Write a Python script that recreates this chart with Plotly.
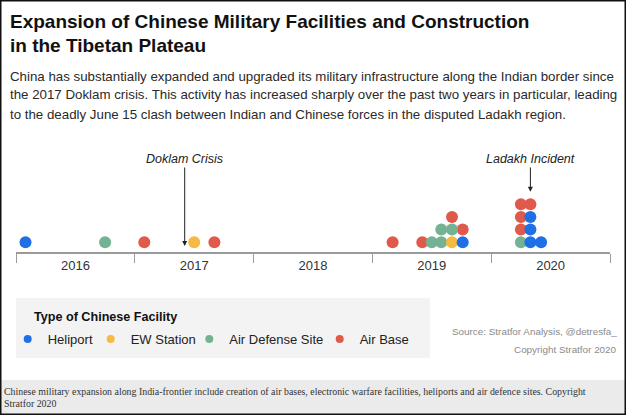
import plotly.graph_objects as go

W, H = 626, 415

# ---------------- data ----------------
year_bounds = [2016, 2017, 2018, 2019, 2020, 2021]
year_centers = [2016.5, 2017.5, 2018.5, 2019.5, 2020.5]
year_labels = ["2016", "2017", "2018", "2019", "2020"]

facility_types = ["Heliport", "EW Station", "Air Defense Site", "Air Base"]
facility_colors = ["#1f6fe6", "#f6b941", "#73b394", "#e05a4b"]

heliport_dates = [2016.08, 2019.76, 2020.33, 2020.33, 2020.33, 2020.42]
heliport_stack = [0, 0, 0, 1, 2, 0]
ew_dates = [2017.50, 2019.67]
ew_stack = [0, 0]
airdef_dates = [2016.75, 2019.50, 2019.58, 2019.58, 2019.67, 2020.25]
airdef_stack = [0, 0, 0, 1, 1, 0]
airbase_dates = [2017.08, 2017.67, 2019.17, 2019.42, 2019.67, 2019.76,
                 2020.25, 2020.25, 2020.25, 2020.33]
airbase_stack = [0, 0, 0, 0, 2, 1, 1, 2, 3, 3]

event_names = ["Doklam Crisis", "Ladakh Incident"]
event_dates = [2017.42, 2020.33]

title_lines = ["Expansion of Chinese Military Facilities and Construction",
               "in the Tibetan Plateau"]
subtitle_lines = [
    "China has substantially expanded and upgraded its military infrastructure along the Indian border since",
    "the 2017 Doklam crisis. This activity has increased sharply over the past two years in particular, leading",
    "to the deadly June 15 clash between Indian and Chinese forces in the disputed Ladakh region.",
]
legend_title = "Type of Chinese Facility"
source_lines = ["Source: Stratfor Analysis, @detresfa_", "Copyright Stratfor 2020"]
caption_lines = [
    "Chinese military expansion along India-frontier include creation of air bases, electronic warfare facilities, heliports and air defence sites. Copyright",
    "Stratfor 2020",
]

# ---------------- layout helpers ----------------
SANS = "Liberation Sans, Arial, sans-serif"
SERIF = "Liberation Serif, Times New Roman, serif"

AXIS_PX = 252.0      # y pixel of the time axis line
TOP_PX = 140.0       # y pixel of top of plot area
ROW_PX = 12.7        # vertical spacing of stacked dots
R0 = -0.764          # data value at axis line
R1 = R0 + (AXIS_PX - TOP_PX) / ROW_PX


def fx(px):
    return px / W


def fy(py):
    return 1 - py / H


def ypx(val):
    return AXIS_PX - (val - R0) * ROW_PX


fig = go.Figure()

series = [
    ("Air Base", airbase_dates, airbase_stack),
    ("Air Defense Site", airdef_dates, airdef_stack),
    ("EW Station", ew_dates, ew_stack),
    ("Heliport", heliport_dates, heliport_stack),
]
for name, xs, ys in series:
    c = facility_colors[facility_types.index(name)]
    fig.add_trace(go.Scatter(
        x=xs, y=ys, mode="markers", name=name, showlegend=False,
        marker=dict(size=12, color=c, line=dict(width=0)),
        hoverinfo="x+name",
    ))

# legend entries (one legend per entry to place them like the original)
legend_text_px = [47.7, 130.7, 229.3, 359.7]
legend_ids = ["legend", "legend2", "legend3", "legend4"]
legend_layouts = {}
for name, c, lid, tpx in zip(facility_types, facility_colors, legend_ids, legend_text_px):
    fig.add_trace(go.Scatter(
        x=[None], y=[None], mode="markers", name=name, legend=lid,
        marker=dict(size=8, color=c), showlegend=True,
    ))
    legend_layouts[lid] = dict(
        x=fx(tpx - 40), y=fy(339), xanchor="left", yanchor="middle",
        orientation="h", bgcolor="rgba(0,0,0,0)", borderwidth=0,
        font=dict(family=SANS, size=13, color="#222222"),
        itemsizing="trace",
    )

annotations = []


def text_ann(text, xpx, ypx_, size, color, family=SANS, xanchor="left"):
    return dict(text=text, x=fx(xpx), y=fy(ypx_), xref="paper", yref="paper",
                xanchor=xanchor, yanchor="middle", showarrow=False,
                font=dict(family=family, size=size, color=color))


annotations.append(text_ann("<b>" + title_lines[0] + "</b>", 8, 22, 19, "#111111"))
annotations.append(text_ann("<b>" + title_lines[1] + "</b>", 8, 46, 19, "#111111"))
for i, line in enumerate(subtitle_lines):
    annotations.append(text_ann(line, 8, 76 + 19 * i, 13.3, "#2a2a2a"))

annotations.append(text_ann("<b>" + legend_title + "</b>", 32, 317, 12.6, "#111111"))
annotations.append(text_ann(source_lines[0], 619, 331, 9.9, "#8a8a8a", xanchor="right"))
annotations.append(text_ann(source_lines[1], 619, 349.5, 9.9, "#8a8a8a", xanchor="right"))
annotations.append(text_ann(caption_lines[0], 2, 391.5, 9.9, "#333333", family=SERIF))
annotations.append(text_ann(caption_lines[1], 2, 403.5, 9.9, "#333333", family=SERIF))

# event markers with arrows
event_tips = [-0.3, 3.98]
for name, d, tip in zip(event_names, event_dates, event_tips):
    annotations.append(dict(
        x=d, y=tip, xref="x", yref="y", text="<i>" + name + "</i>",
        showarrow=True, arrowhead=2, arrowsize=1, arrowwidth=1,
        arrowcolor="#222222", ax=0, ay=159 - ypx(tip), standoff=0,
        font=dict(family=SANS, size=12.5, color="#222222"),
    ))

shapes = [
    # caption band
    dict(type="rect", xref="paper", yref="paper", x0=0, x1=1, y0=0, y1=fy(380),
         fillcolor="#ebebeb", line=dict(width=0), layer="below"),
    # legend box
    dict(type="rect", xref="paper", yref="paper", x0=fx(16), x1=fx(430),
         y0=fy(358), y1=fy(298), fillcolor="#f3f3f3", line=dict(width=0),
         layer="below"),
    # outer frame
    dict(type="rect", xref="paper", yref="paper", x0=0, x1=1, y0=0, y1=1,
         fillcolor="rgba(0,0,0,0)", line=dict(color="#111111", width=3)),
]

fig.update_layout(
    width=W, height=H, autosize=False,
    margin=dict(l=0, r=0, t=0, b=0),
    paper_bgcolor="white", plot_bgcolor="white",
    annotations=annotations, shapes=shapes,
    xaxis=dict(
        domain=[fx(16), fx(610)], range=[year_bounds[0], year_bounds[-1]],
        tickmode="array", tickvals=year_centers, ticktext=year_labels,
        ticks="", showgrid=False, zeroline=False,
        showline=True, linecolor="#9a9a9a", linewidth=1.5,
        tickfont=dict(family=SANS, size=13, color="#333333"),
        ticklabelstandoff=1,
        minor=dict(tickmode="array", tickvals=year_bounds, ticks="outside",
                   ticklen=9, tickwidth=1.3, tickcolor="#9a9a9a", showgrid=False),
        fixedrange=True,
    ),
    yaxis=dict(
        domain=[fy(AXIS_PX), fy(TOP_PX)], range=[R0, R1],
        visible=False, fixedrange=True,
    ),
    showlegend=True,
    **legend_layouts,
)

fig.write_html(
    "out.html",
    config={"displayModeBar": False},
    post_script="document.body.style.margin='0';document.body.style.padding='0';"
                "document.documentElement.style.overflow='hidden';",
)
